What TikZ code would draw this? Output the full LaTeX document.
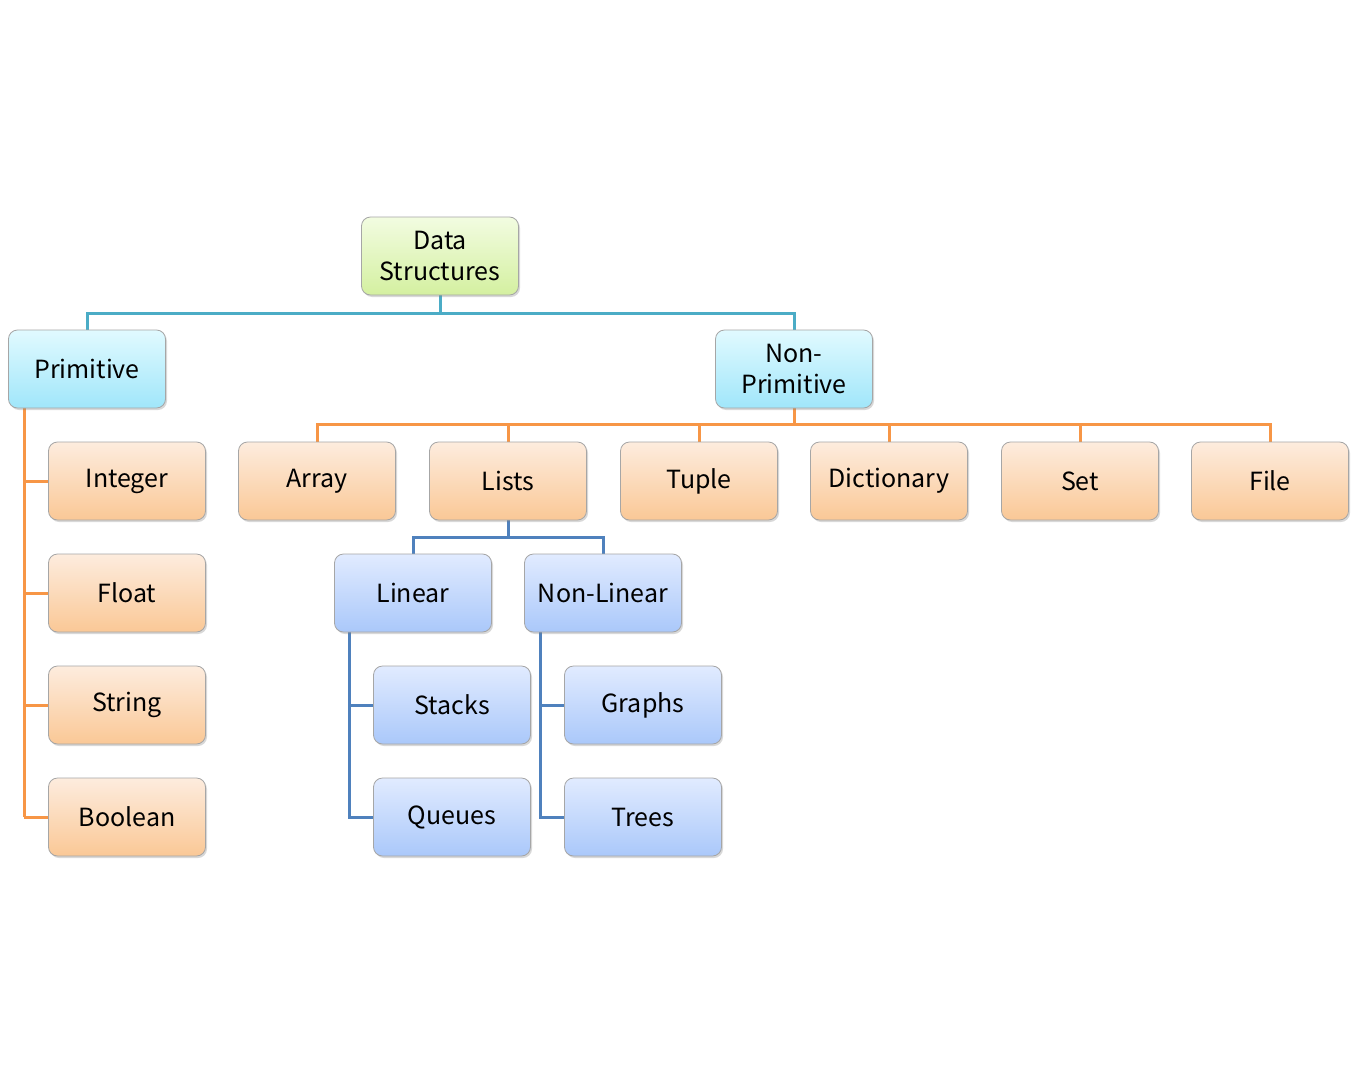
\documentclass[tikz,border=0pt]{standalone}
\usepackage{fontspec}
\setmainfont{Noto Sans CJK JP}
\usetikzlibrary{shadows}
\definecolor{teal}{RGB}{75,172,198}
\definecolor{org}{RGB}{247,150,70}
\definecolor{blu}{RGB}{79,129,189}
\tikzset{
 box/.style={draw=black!35,line width=0.8pt,rounded corners=9pt,minimum width=157pt,minimum height=78pt,
  align=center,font=\fontsize{25}{31}\selectfont,inner sep=2pt,drop shadow={shadow xshift=1.5pt,shadow yshift=-2pt,opacity=0.3}},
 gb/.style={box,top color={rgb,255:red,242;green,252;blue,225},bottom color={rgb,255:red,212;green,240;blue,160}},
 cb/.style={box,top color={rgb,255:red,225;green,250;blue,255},bottom color={rgb,255:red,160;green,230;blue,250}},
 ob/.style={box,top color={rgb,255:red,253;green,236;blue,222},bottom color={rgb,255:red,250;green,200;blue,150}},
 bb/.style={box,top color={rgb,255:red,225;green,235;blue,255},bottom color={rgb,255:red,170;green,200;blue,250}},
 ln/.style={line width=3pt},
}
\begin{document}
\begin{tikzpicture}[x=1pt,y=-1pt]
\useasboundingbox[fill=white] (0,0) rectangle (1358,1073);
\draw[ln,teal] (440,256) -- (440,313) (87,330) |- (794,313) -- (794,330);
\draw[ln,org] (24,400) -- (24,817);
\foreach \y in {481,593,705,817} \draw[ln,org] (24,\y) -- (60,\y);
\draw[ln,org] (794,400) -- (794,424) (317,445) |- (1270,424) -- (1270,445);
\foreach \x in {508,699,889,1080} \draw[ln,org] (\x,424) -- (\x,445);
\draw[ln,blu] (508,510) -- (508,537) (413,560) |- (603,537) -- (603,560);
\draw[ln,blu] (349,620) |- (385,817) (349,705) -- (385,705);
\draw[ln,blu] (540,620) |- (575,817) (540,705) -- (575,705);
\node[gb] (ds) at (440,256) {Data\\Structures};
\node[cb] (pr) at (87,369) {Primitive};
\node[cb] (np) at (794,369) {Non-\\Primitive};
\node[ob] (int) at (127,481) {Integer};
\node[ob] (flo) at (127,593) {Float};
\node[ob] (str) at (127,705) {String};
\node[ob] (boo) at (127,817) {Boolean};
\node[ob] (arr) at (317,481) {Array};
\node[ob] (lis) at (508,481) {Lists};
\node[ob] (tup) at (699,481) {Tuple};
\node[ob] (dic) at (889,481) {Dictionary};
\node[ob] (set) at (1080,481) {Set};
\node[ob] (fil) at (1270,481) {File};
\node[bb] (lin) at (413,593) {Linear};
\node[bb] (nl) at (603,593) {Non-Linear};
\node[bb] (sta) at (452,705) {Stacks};
\node[bb] (que) at (452,817) {Queues};
\node[bb] (gra) at (643,705) {Graphs};
\node[bb] (tre) at (643,817) {Trees};
\end{tikzpicture}
\end{document}
